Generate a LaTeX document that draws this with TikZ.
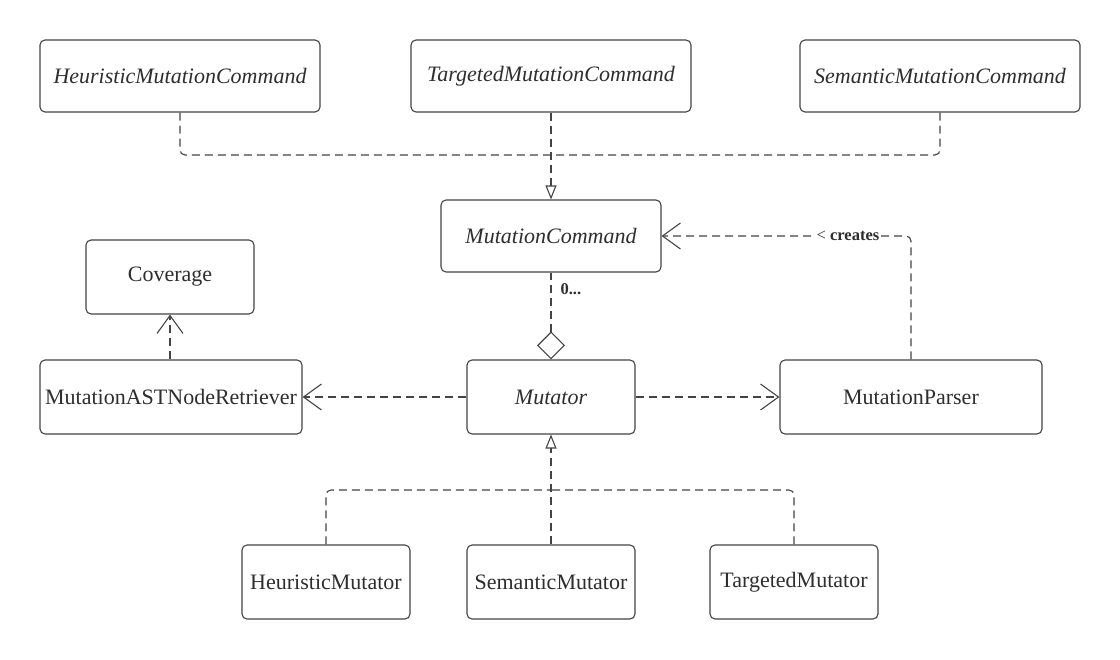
\documentclass[tikz,border=0pt]{standalone}
\usepackage{fontspec}
\setmainfont{Liberation Serif}
\usepackage{tikz}
\usetikzlibrary{arrows.meta}

\definecolor{umlline}{HTML}{444444}
\definecolor{umltext}{HTML}{2E2E2E}

\tikzset{
    umlbox/.style={draw=umlline, line width=1.1pt, rounded corners=5pt, fill=white,
        text=umltext, font=\fontsize{22}{26}\selectfont, minimum height=74pt},
    abstract/.style={umlbox, font=\fontsize{22}{26}\selectfont\itshape},
    dep/.style={draw=umlline, line width=1.1pt, dash pattern=on 8pt off 5pt, rounded corners=5pt},
    realize/.style={dep, -{Triangle[open, length=14pt, width=11pt]}},
    uses/.style={dep, -{Straight Barb[length=18pt, width=26pt]}},
    tag/.style={text=umltext, font=\fontsize{16.5}{19}\selectfont\bfseries}
}

\begin{document}
\begin{tikzpicture}[x=1pt, y=-1pt]
    \useasboundingbox (0,0) rectangle (1120,660);

    \node[abstract, minimum width=280pt, minimum height=72pt] (hmcmd) at (180,76) {HeuristicMutationCommand};
    \node[abstract, minimum width=280pt, minimum height=72pt] (tmcmd) at (551,76) {TargetedMutationCommand};
    \node[abstract, minimum width=280pt, minimum height=72pt] (smcmd) at (940,76) {SemanticMutationCommand};
    \node[abstract, minimum width=220pt, minimum height=72pt] (mcmd) at (551,236) {MutationCommand};
    \node[umlbox, minimum width=168pt] (coverage) at (170,277) {Coverage};
    \node[umlbox, minimum width=262pt] (retriever) at (171,397) {MutationASTNodeRetriever};
    \node[abstract, minimum width=168pt] (mutator) at (551,397) {Mutator};
    \node[umlbox, minimum width=262pt] (parser) at (911,397) {MutationParser};
    \node[umlbox, minimum width=168pt] (hmut) at (326,582) {HeuristicMutator};
    \node[umlbox, minimum width=168pt] (smut) at (551,582) {SemanticMutator};
    \node[umlbox, minimum width=168pt] (tmut) at (794,582) {TargetedMutator};

    \coordinate (topjoin) at (551,155);
    \coordinate (botjoin) at (551,490);

    \draw[dep] (hmcmd.south) |- (topjoin);
    \draw[dep] (smcmd.south) |- (topjoin);
    \draw[realize] (tmcmd.south) -- (mcmd.north);

    \draw[dep] (hmut.north) |- (botjoin);
    \draw[dep] (tmut.north) |- (botjoin);
    \draw[realize] (smut.north) -- (mutator.south);

    \draw[dep, {Diamond[open, length=28pt, width=28pt]}-] (mutator.north) -- (mcmd.south);
    \node[tag, anchor=west] (mult) at (557,289) {0...};

    \draw[uses] (mutator.west) -- (retriever.east);
    \draw[uses] (mutator.east) -- (parser.west);
    \draw[uses] (retriever.north -| coverage.south) -- (coverage.south);

    \draw[uses] (parser.north) |- (mcmd.east);
    \node[tag, fill=white, inner sep=2pt] (creates) at (848,236) {{\mdseries<} creates};
\end{tikzpicture}
\end{document}
